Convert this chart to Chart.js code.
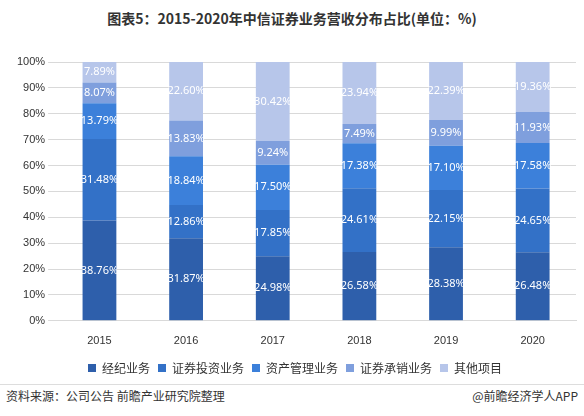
<!DOCTYPE html><html><head><meta charset="utf-8">
<script src="https://cdn.jsdelivr.net/npm/chart.js@4"></script>
<style>
body{margin:0;width:584px;height:416px;background:#fff;font-family:"Noto Sans CJK SC","Noto Sans",sans-serif;position:relative;overflow:hidden}
#t{position:absolute;top:8px;left:0;width:584px;text-align:center;font-weight:bold;font-size:14px;color:#333}
#c{position:absolute;top:40px;left:0;width:584px;height:344px}
#f1{position:absolute;left:6px;top:387px;font-size:12px;color:#333}
#f2{position:absolute;right:6px;top:387px;font-size:12px;color:#333}
#line{position:absolute;left:0;top:384px;width:584px;border-top:1px solid #ddd}
</style></head><body>
<div id="t">图表5：2015-2020年中信证券业务营收分布占比(单位：%)</div>
<div id="c"><canvas id="cv"></canvas></div>
<div id="line"></div>
<div id="f1">资料来源：公司公告 前瞻产业研究院整理</div>
<div id="f2">@前瞻经济学人APP</div>
<script>
const categories=["2015","2016","2017","2018","2019","2020"];
const brokerage=[38.76,31.87,24.98,26.58,28.38,26.48];
const investment=[31.48,12.86,17.85,24.61,22.15,24.65];
const assetMgmt=[13.79,18.84,17.50,17.38,17.10,17.58];
const underwriting=[8.07,13.83,9.24,7.49,9.99,11.93];
const other=[7.89,22.60,30.42,23.94,22.39,19.36];
const names=["经纪业务","证券投资业务","资产管理业务","证券承销业务","其他项目"];
const colors=["#2e5fab","#3371c7","#3c80da","#7f9fdd","#b7c6ea"];
const series=[brokerage,investment,assetMgmt,underwriting,other];
const labelPlugin={id:"lbl",afterDatasetsDraw(ch){const ctx=ch.ctx;ctx.save();ctx.font="11px 'Noto Sans','DejaVu Sans',sans-serif";ctx.fillStyle="#fff";ctx.textAlign="center";ctx.textBaseline="middle";
ch.data.datasets.forEach((ds,i)=>{ch.getDatasetMeta(i).data.forEach((b,j)=>{ctx.fillText(ds.data[j].toFixed(2)+"%",b.x,(b.y+b.base)/2);});});ctx.restore();}};
new Chart(document.getElementById("cv"),{type:"bar",
data:{labels:categories,datasets:series.map((d,i)=>({label:names[i],data:d,backgroundColor:colors[i],barPercentage:0.78,categoryPercentage:0.5}))},
options:{responsive:true,maintainAspectRatio:false,animation:false,
layout:{padding:{left:14,right:8,top:22,bottom:0}},
plugins:{legend:{position:"bottom",labels:{boxWidth:8,boxHeight:8,font:{size:12,family:"'Noto Sans CJK SC'"},color:"#333",padding:8}},tooltip:{enabled:false}},
scales:{x:{stacked:true,grid:{display:false},border:{color:"#d9d9d9"},ticks:{color:"#333",font:{size:11},padding:6}},
y:{stacked:true,min:0,max:100,ticks:{stepSize:10,callback:v=>v+"%",color:"#333",font:{size:11}},grid:{color:"#d9d9d9"},border:{display:false}}}},
plugins:[labelPlugin]});
</script></body></html>
